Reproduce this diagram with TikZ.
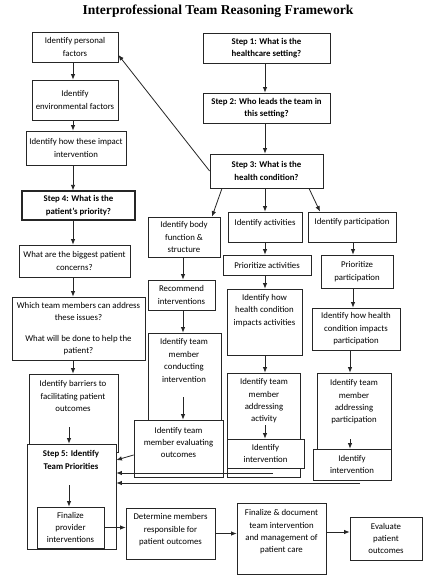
\documentclass[tikz,border=0pt]{standalone}
\usepackage{fontspec}
\setmainfont{Carlito}
\newfontfamily\titlefont{Liberation Serif}
\usetikzlibrary{arrows.meta}
\newcommand\bx[7][]{\node[box,#1,minimum width={(#5-#3)*1pt},minimum height={(#6-#4)*1pt}] (#2) at ({(#3+#5)/2},{(#4+#6)/2}) {#7};}
\newcommand\tx[5][]{\node[txt,#1] (#2) at (#3,#4) {#5};}
\begin{document}
\begin{tikzpicture}[x=1pt,y=-1pt,
  box/.style={draw=black!85, line width=0.8pt, fill=white, inner sep=0pt, align=center, font=\fontsize{8.8}{12.4}\selectfont},
  txt/.style={inner sep=0pt, align=center, font=\fontsize{8.8}{12.4}\selectfont},
  bold/.style={font=\fontsize{8.8}{12.4}\selectfont\bfseries},
  thick box/.style={line width=1.3pt},
  arr/.style={-{Latex[length=5.5pt,width=4.5pt]}, line width=0.8pt, draw=black!85}]
\useasboundingbox (0,0) rectangle (432,583);
\fill[white] (0,0) rectangle (432,583);
\node[font=\titlefont\bfseries\fontsize{13.6}{15}\selectfont] (title) at (218,11) {Interprofessional Team Reasoning Framework};
% left column
\bx{pf}{32}{32}{118}{62}{Identify personal\\factors}
\bx{ef}{32}{80}{118}{120}{Identify\\environmental factors}
\bx{hi}{26}{131}{126}{165}{Identify how these impact\\intervention}
\bx[thick box,bold]{s4}{22}{191}{135}{220}{Step 4: What is the\\patient’s priority?}
\bx{bc}{19}{245}{130}{277}{What are the biggest patient\\concerns?}
\bx{wt}{12}{297}{145}{360}{Which team members can address\\these issues?\\[8pt]What will be done to help the\\patient?}
\bx{br}{29}{374}{118}{452}{}
\tx{brT}{73}{396}{Identify barriers to\\facilitating patient\\outcomes}
\bx{s5}{27}{444}{116}{549}{}
\tx[bold]{s5T}{71}{460}{Step 5: Identify\\Team Priorities}
\bx{fp}{37}{507}{104}{548}{Finalize\\provider\\interventions}
\bx{dm}{126}{508}{215}{559}{}
\tx{dmT}{170.5}{530}{Determine members\\responsible for\\patient outcomes}
\bx{fd}{237}{503}{326}{574}{}
\tx{fdT}{281.5}{532}{Finalize \& document\\team intervention\\and management of\\patient care}
\bx{ev}{350}{517}{422}{560}{Evaluate\\patient\\outcomes}
% steps
\bx[bold]{s1}{203}{33}{330}{63}{Step 1: What is the\\healthcare setting?}
\bx[bold]{s2}{203}{93}{330}{123}{Step 2: Who leads the team in\\this setting?}
\bx[bold]{s3}{210}{154}{323}{188}{Step 3: What is the\\health condition?}
% body function column
\bx{bf}{148}{217}{220}{257}{Identify body\\function \&\\structure}
\bx{ri}{148}{280}{215}{310}{Recommend\\interventions}
\bx{cm}{148}{333}{221}{472}{}
\tx{cmT}{184}{360.5}{Identify team\\member\\conducting\\intervention}
\bx{em}{134}{420}{223}{477}{}
\tx{emT}{178.5}{442.5}{Identify team\\member evaluating\\outcomes}
% activities column
\bx{ia}{228}{212}{302}{242}{}
\tx{iaT}{265}{223.5}{Identify activities}
\bx{pa}{223}{255}{311}{275}{Prioritize activities}
\bx{ha}{227}{289}{302}{355}{}
\tx{haT}{264.5}{310.5}{Identify how\\health condition\\impacts activities}
\bx{aa}{227}{373}{300}{477}{}
\tx{aaT}{264}{401}{Identify team\\member\\addressing\\activity}
\bx{iact}{227}{439}{304}{468}{Identify\\intervention}
% participation column
\bx{ip}{308}{212}{396}{242}{}
\tx{ipT}{352}{222}{Identify participation}
\bx{pp}{321}{255}{393}{288}{Prioritize\\participation}
\bx{hp}{312}{308}{400}{350}{Identify how health\\condition impacts\\participation}
\bx{ap}{317}{373}{391}{472}{}
\tx{apT}{354}{402}{Identify team\\member\\addressing\\participation}
\bx{ipart}{313}{449}{391}{480}{Identify\\intervention}
% coordinates for arrow starts inside boxes
\coordinate (brA) at (69,427);
\coordinate (s5A) at (69,485);
\coordinate (cmA) at (183,397);
\coordinate (aaA) at (265,425);
\coordinate (apA) at (350,439);
\coordinate (c1) at (273,473);
\coordinate (c2) at (360,483);
% left column arrows
\draw[arr] (73,0 |- pf.south) -- (73,0 |- ef.north);
\draw[arr] (73,0 |- ef.south) -- (73,0 |- hi.north);
\draw[arr] (73,0 |- hi.south) -- (73,0 |- s4.north);
\draw[arr] (73,0 |- s4.south) -- (73,0 |- bc.north);
\draw[arr] (73,0 |- bc.south) -- (73,0 |- wt.north);
\draw[arr] (73,0 |- wt.south) -- (73,0 |- br.north);
\draw[arr] (brA) -- (brA |- s5.north);
\draw[arr] (s5A) -- (s5A |- fp.north);
\draw[arr] (fp.east) -- (fp.east -| dm.west);
\draw[arr] (dm.east) -- (dm.east -| fd.west);
\draw[arr] (fd.east |- 0,532) -- (ev.west |- 0,532);
% steps
\draw[arr] (265,0 |- s1.south) -- (265,0 |- s2.north);
\draw[arr] (265,0 |- s2.south) -- (265,0 |- s3.north);
\draw[arr] (s3.west) -- ([yshift=-8pt]pf.east);
\draw[arr] ([xshift=-44.5pt]s3.south) -- ([xshift=28pt]bf.north);
\draw[arr] (265,0 |- s3.south) -- (265,0 |- ia.north);
\draw[arr] ([xshift=42.5pt]s3.south) -- ([xshift=-32pt]ip.north);
% body function column
\draw[arr] (183,0 |- bf.south) -- (183,0 |- ri.north);
\draw[arr] (183,0 |- ri.south) -- (183,0 |- cm.north);
\draw[arr] (cmA) -- (cmA |- em.north);
\draw[arr] ([yshift=-6.5pt]em.west) -- (s5.east |- 0,460);
% activities column
\draw[arr] (265,0 |- ia.south) -- (265,0 |- pa.north);
\draw[arr] (265,0 |- pa.south) -- (265,0 |- ha.north);
\draw[arr] (265,0 |- ha.south) -- (265,0 |- aa.north);
\draw[arr] (aaA) -- (aaA |- iact.north);
\draw[arr] (c1) -- (c1 -| s5.east);
% participation column
\draw[arr] (353,0 |- ip.south) -- (353,0 |- pp.north);
\draw[arr] (353,0 |- pp.south) -- (353,0 |- hp.north);
\draw[arr] (350,0 |- hp.south) -- (350,0 |- ap.north);
\draw[arr] (apA) -- (apA |- ipart.north);
\draw[arr] (c2) -- (c2 -| s5.east);
\end{tikzpicture}
\end{document}
